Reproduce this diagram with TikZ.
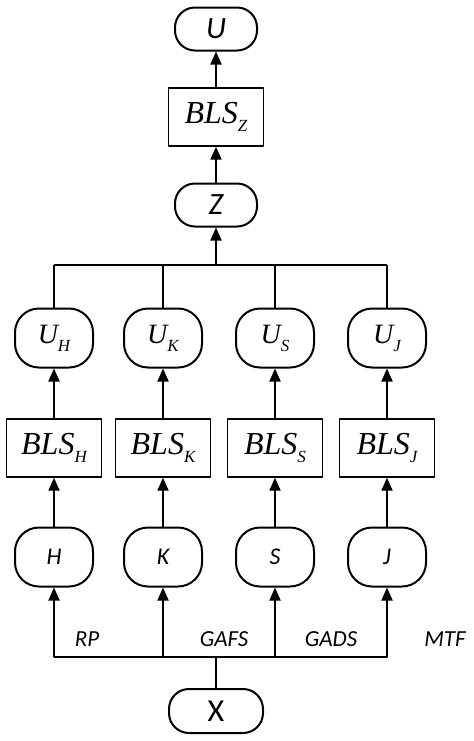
\documentclass[tikz,border=0pt]{standalone}
\usepackage{fontspec}
\setmainfont{Liberation Serif}
\newfontfamily\calib{Carlito}
\usetikzlibrary{arrows.meta}
\newcommand\lowsub[2]{#1\raisebox{-4pt}{\fontsize{8.5}{8.5}\selectfont #2}}

\begin{document}
\begin{tikzpicture}[x=0.5pt,y=-0.5pt,line width=1pt,line join=round,>={Triangle[width=5.5pt,length=6.5pt]}]
\tikzset{
 pill/.style={draw,rounded corners=10pt,minimum width=41pt,minimum height=21.5pt,inner sep=0pt,font=\calib\itshape\fontsize{15.5}{18}\selectfont},
 tallpill/.style={draw,rounded corners=12pt,minimum width=39pt,minimum height=29.5pt,inner sep=0pt},
 blsbox/.style={draw,line width=0.7pt,minimum width=47.5pt,minimum height=29pt,inner sep=0pt,font=\itshape\fontsize{16}{18}\selectfont},
 branch/.style={font=\calib\itshape\fontsize{11.5}{13}\selectfont}
}
\useasboundingbox (0,0) rectangle (474,741);
% top chain
\node[pill] (U) at (216,29) {U};
\node[blsbox] (BLSZ) at (216,117) {\lowsub{BLS}{Z}};
\node[pill] (Z) at (216,205) {Z};
\coordinate (topbus) at (216,265);
\coordinate (botbus) at (216,657);
% four branches
\foreach \n/\x in {H/54,K/163,S/275,J/387}{
 \node[tallpill,font=\itshape\fontsize{14}{16}\selectfont] (U\n) at (\x,338) {\lowsub{U}{\n}};
 \node[blsbox] (BLS\n) at (\x,448) {\lowsub{BLS}{\n}};
 \node[tallpill,font=\calib\itshape\fontsize{12}{14}\selectfont] (\n) at (\x,557) {\n};
 \draw[->] (\n) -- (BLS\n);
 \draw[->] (BLS\n) -- (U\n);
 \draw[->] (botbus) -| (\n.south);
 \draw (U\n.north) -- (U\n.north |- topbus);
}
\draw (UH.north |- topbus) -- (UJ.north |- topbus);
\draw[->] (topbus) -- (Z);
\draw[->] (Z) -- (BLSZ);
\draw[->] (BLSZ) -- (U);
% input
\node[pill,minimum width=47pt,minimum height=22pt,font=\calib\fontsize{16}{18}\selectfont] (X) at (216,711) {X};
\draw (X) -- (botbus);
\node[branch] (RP) at (87,639) {RP};
\node[branch] (GAFS) at (224,639) {GAFS};
\node[branch] (GADS) at (331,639) {GADS};
\node[branch] (MTF) at (445,639) {MTF};
\end{tikzpicture}
\end{document}
